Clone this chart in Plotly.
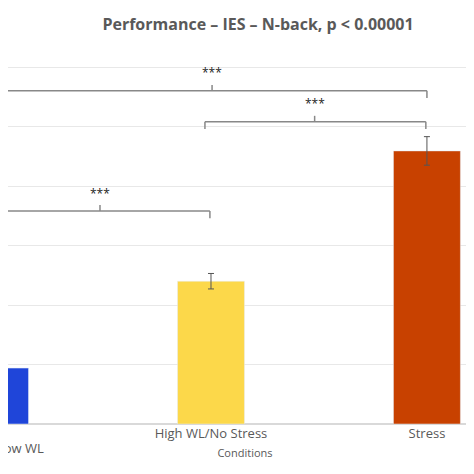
import plotly.graph_objects as go

categories = ["Low WL", "High WL/No Stress", "Stress"]
xpos = [0, 1, 2]
values = [0.94, 2.40, 4.59]
errors = [0.10, 0.13, 0.24]
colors = ["#1f45d9", "#fcd84a", "#c84100"]

# significance brackets: (x_left, x_right, y, label)
brackets = [(-1.0, 2.0, 5.60, "***"), (0.972, 1.995, 5.08, "***"), (-1.0, 0.995, 3.58, "***")]
mids = [1.005, 1.48, 0.486]

fig = go.Figure(go.Bar(
    x=xpos, y=values, width=0.31, marker_color=colors,
    error_y=dict(type="data", array=errors, color="#555", thickness=1, width=3),
))

line = dict(color="#888", width=1.5)
for (x0, x1, y, lab), xm in zip(brackets, mids):
    fig.add_shape(type="line", x0=x0, x1=x1, y0=y, y1=y, line=line)
    fig.add_shape(type="line", x0=x1, x1=x1, y0=y, y1=y - 0.12, line=line)
    if x0 > -0.5:
        fig.add_shape(type="line", x0=x0, x1=x0, y0=y, y1=y - 0.12, line=line)
    fig.add_shape(type="line", x0=xm, x1=xm, y0=y, y1=y + 0.1, line=line)
    fig.add_annotation(x=xm, y=y + 0.3, text=lab, showarrow=False,
                       font=dict(size=12, color="#222"))

fig.add_annotation(x=-13 / 474, xref="paper", y=-0.035, yref="paper", yanchor="top",
                   text=categories[0], showarrow=False, font=dict(size=13, color="#595959"))

fig.update_layout(
    width=474, height=474, showlegend=False,
    paper_bgcolor="white", plot_bgcolor="white",
    margin=dict(l=0, r=0, t=40, b=58, autoexpand=False),
    font=dict(family="Open Sans", color="#595959"),
    title=dict(text="<b>Performance – IES – N-back, p < 0.00001</b>", x=250 / 474, xanchor="center",
               y=1 - 16 / 474, yanchor="middle", font=dict(size=16, color="#595959")),
    xaxis=dict(range=[0.060, 2.255], tickvals=xpos, ticktext=categories, automargin=False,
               tickfont=dict(size=13, color="#595959"), showgrid=False, zeroline=False,
               title=dict(text="Conditions", font=dict(size=11, color="#595959"), standoff=8)),
    yaxis=dict(range=[0, 6.32], dtick=1, showticklabels=False, gridcolor="#e8e8e8", automargin=False,
               zeroline=True, zerolinecolor="#d9d9d9"),
)
fig.write_html("out.html")
